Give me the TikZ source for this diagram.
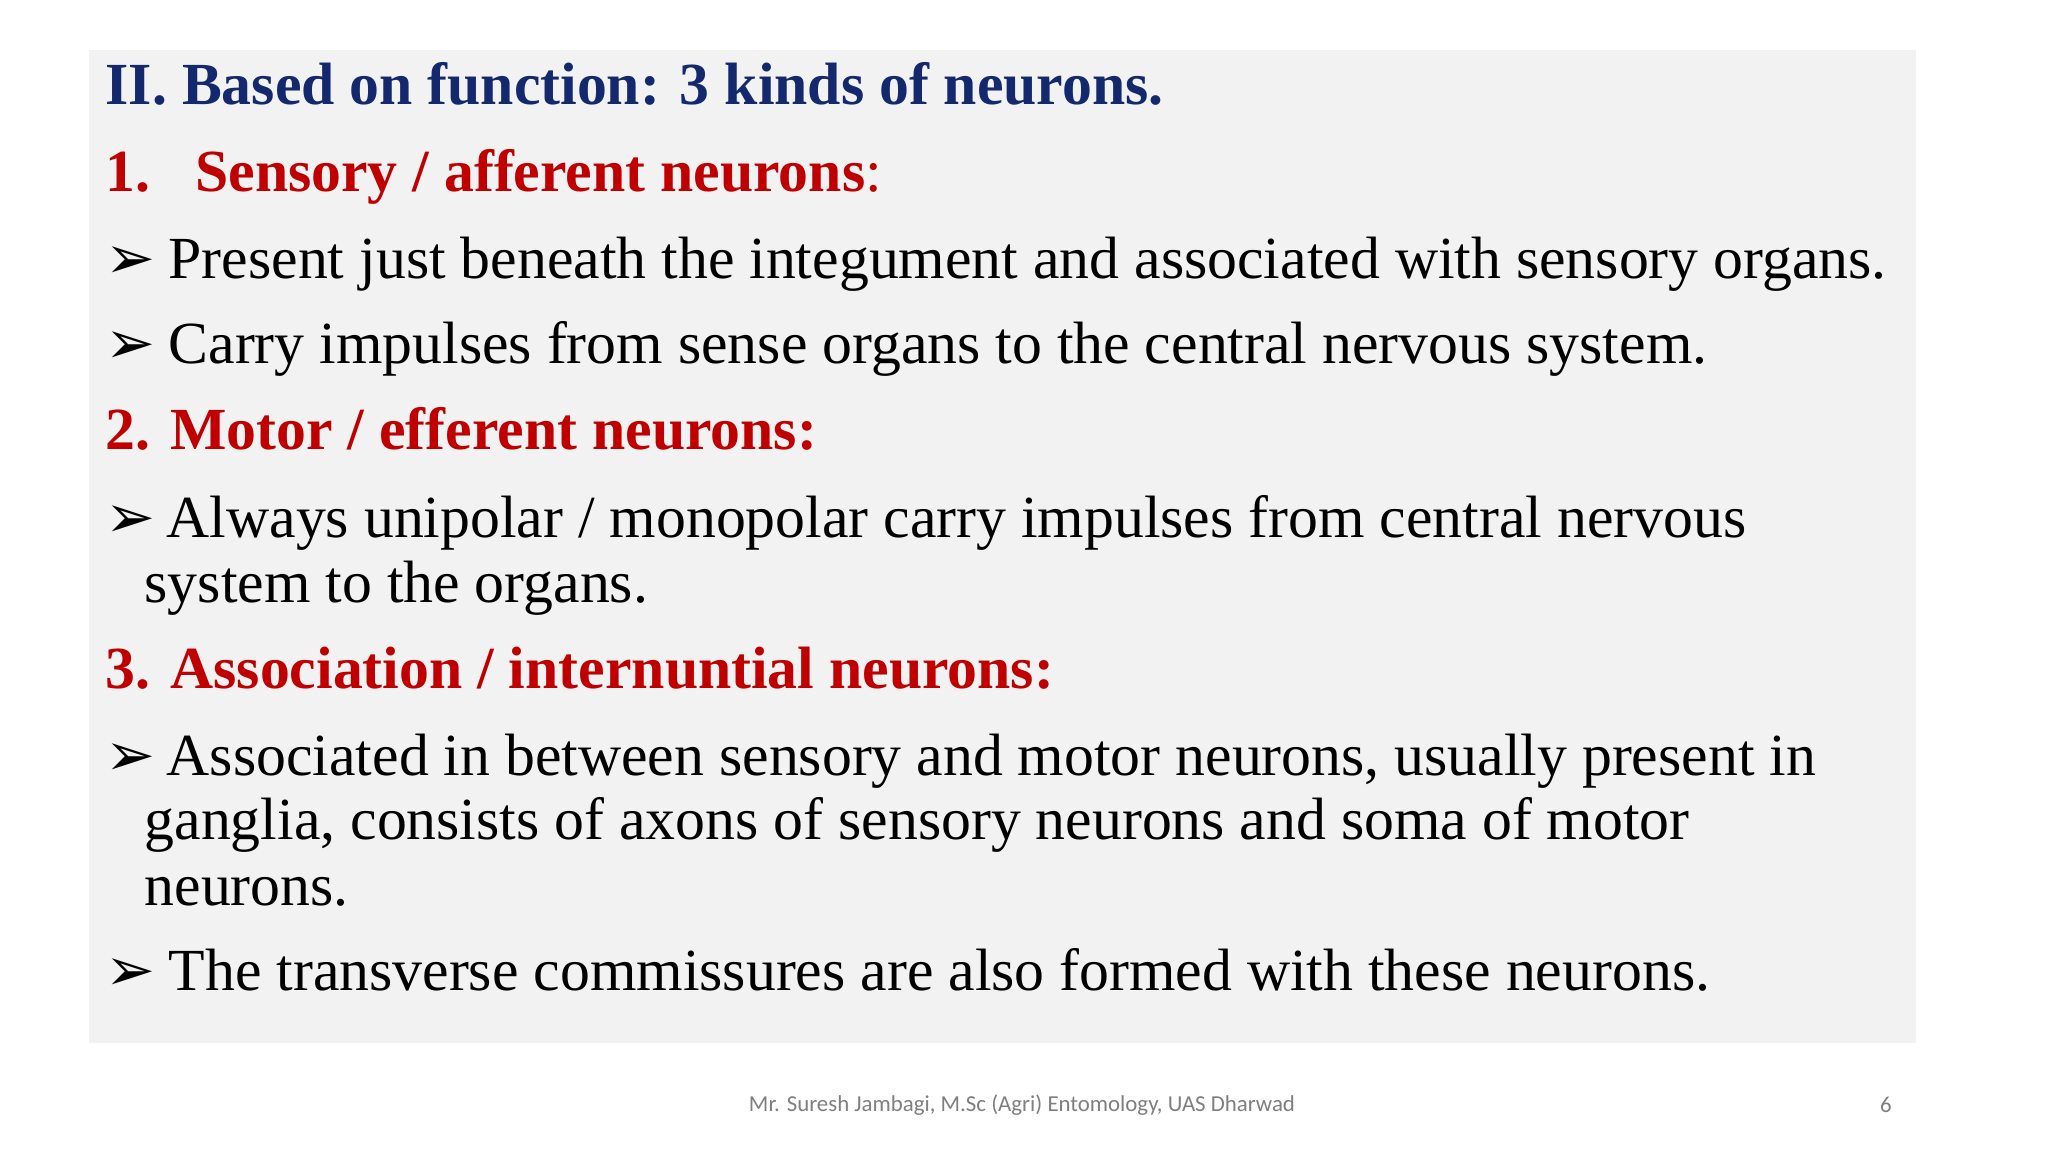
\documentclass[tikz,border=0pt]{standalone}
\usepackage{fontspec}
\setmainfont{Liberation Serif}
\newfontfamily\dejavu{DejaVu Sans}
\newfontfamily\carl{Carlito}
\definecolor{ttl}{HTML}{14286E}
\definecolor{hd}{HTML}{C00000}
\definecolor{bg}{HTML}{F2F2F2}
\definecolor{ft}{HTML}{7F7F7F}
\tikzset{
 txt/.style={anchor=mid west,inner sep=0pt,font=\fontsize{17}{20}\selectfont,text=black},
 head/.style={txt,font=\fontsize{17}{20}\selectfont\bfseries,text=hd},
 arr/.style={anchor=mid west,inner sep=0pt,font=\dejavu\bfseries\fontsize{17}{20}\selectfont},
 foot/.style={inner sep=0pt,font=\carl\fontsize{6.5}{8}\selectfont,text=ft}
}
\begin{document}
\begin{tikzpicture}
\useasboundingbox (0,0) rectangle (20.48,-11.52);
\fill[white] (0,0) rectangle (20.48,-11.52);
\fill[bg] (0.89,-0.50) rectangle (19.16,-10.43);
\node[head,text=ttl] (t) at (1.05,-0.96) {II. Based on function: 3 kinds of neurons.};
\node[head] (h1) at (1.05,-1.83) {1.\hspace{0.75em}Sensory / afferent neurons\textmd{:}};
\node[arr] (a1) at (1.05,-2.70) {➢};
\node[txt] (b1) at (1.68,-2.70) {Present just beneath the integument and associated with sensory organs.};
\node[arr] (a2) at (1.05,-3.55) {➢};
\node[txt] (b2) at (1.68,-3.55) {Carry impulses from sense organs to the central nervous system.};
\node[head] (h2) at (1.05,-4.41) {2. Motor / efferent neurons:};
\node[arr] (a3) at (1.05,-5.29) {➢};
\node[txt] (b3) at (1.66,-5.29) {Always unipolar / monopolar carry impulses from central nervous};
\node[txt] (b3b) at (1.44,-5.94) {system to the organs.};
\node[head] (h3) at (1.05,-6.80) {3. Association / internuntial neurons:};
\node[arr] (a4) at (1.05,-7.67) {➢};
\node[txt] (b4) at (1.66,-7.67) {Associated in between sensory and motor neurons, usually present in};
\node[txt] (b4b) at (1.44,-8.31) {ganglia, consists of axons of sensory neurons and soma of motor};
\node[txt] (b4c) at (1.44,-8.97) {neurons.};
\node[arr] (a5) at (1.05,-9.82) {➢};
\node[txt] (b5) at (1.68,-9.82) {The transverse commissures are also formed with these neurons.};
\node[foot] (f) at (10.22,-11.05) {Mr. Suresh Jambagi, M.Sc (Agri) Entomology, UAS Dharwad};
\node[foot] (n) at (18.86,-11.05) {6};
\end{tikzpicture}
\end{document}
